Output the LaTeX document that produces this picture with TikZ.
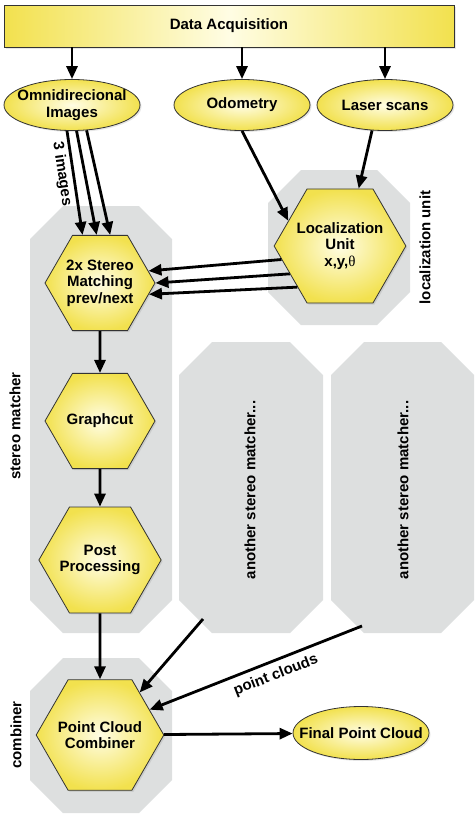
\documentclass[tikz,border=0pt]{standalone}
\usepackage{fontspec}
\setmainfont{Liberation Sans}
\newfontfamily\thetafont{Liberation Serif}
\usetikzlibrary{shapes.geometric,arrows.meta,shadows}

\definecolor{hexyellow}{RGB}{242,225,78}
\definecolor{hexpale}{RGB}{255,253,228}
\definecolor{grpgray}{RGB}{221,223,223}

% gray group with cut corners: x1, y1, x2, y2
\newcommand{\grpoct}[4]{%
  \fill[grpgray] (#1+33,#2) -- (#3-33,#2) -- (#3,#2+33) -- (#3,#4-33)
    -- (#3-33,#4) -- (#1+33,#4) -- (#1,#4-33) -- (#1,#2+33) -- cycle;}

\tikzset{
  txt/.style={font=\fontsize{15}{16.5}\selectfont\bfseries, align=center},
  hexbox/.style={txt, regular polygon, regular polygon sides=6, minimum size=110pt, inner sep=-3pt,
    draw=black!80, line width=0.8pt, inner color=hexpale, outer color=hexyellow,
    drop shadow={opacity=0.2, shadow xshift=1.5pt, shadow yshift=-1.5pt}},
  ellbox/.style={txt, ellipse, minimum width=136pt, minimum height=51pt, inner xsep=-16pt, inner ysep=0pt,
    draw=black!80, line width=0.8pt, inner color=hexpale, outer color=hexyellow,
    drop shadow={opacity=0.2, shadow xshift=1.5pt, shadow yshift=-1.5pt}},
  databox/.style={txt, rectangle, minimum width=450pt, minimum height=42pt, draw=black!80, line width=0.8pt,
    left color=hexyellow, right color=hexyellow, middle color=hexpale,
    drop shadow={opacity=0.2, shadow xshift=1.5pt, shadow yshift=-1.5pt}},
  arr/.style={line width=2.8pt, -{Triangle[length=13pt,width=11pt]}}
}

\begin{document}
\begin{tikzpicture}[x=1pt, y=-1pt]
  \useasboundingbox (0,0) rectangle (474,814);

  % gray groups in the background
  \grpoct{30}{206}{172}{633}
  \grpoct{268}{170}{410}{325}
  \grpoct{179}{342}{323}{633}
  \grpoct{331}{342}{474}{633}
  \grpoct{30}{658}{172}{813}

  \node[txt, rotate=90] (smlab) at (15,426) {stereo matcher};
  \node[txt, rotate=90] (loclab) at (425,247.5) {localization unit};
  \node[txt, rotate=90] (comblab) at (16,735) {combiner};
  \node[txt, rotate=90] (asm1txt) at (250,490) {another stereo matcher...};
  \node[txt, rotate=90] (asm2txt) at (403,490) {another stereo matcher...};
  \coordinate (asm1out) at (203,619);
  \coordinate (asm2out) at (362,626);

  % sources
  \node[databox] (da) at (229,26) {Data Acquisition};
  \node[ellbox] (omni) at (72,105) {Omnidirecional\\Images};
  \node[ellbox] (odo) at (242,105) {Odometry};
  \node[ellbox] (laser) at (385,105) {Laser scans};

  % processing steps
  \node[hexbox] (sm) at (100,283) {2x Stereo\\Matching\\prev/next};
  \node[hexbox] (gc) at (100,421) {Graphcut};
  \node[hexbox] (pp) at (100,560) {Post\\Processing};
  \node[hexbox] (loc) at (340,246) {Localization\\Unit\\x,y,{\thetafont\mdseries θ}};
  \node[hexbox] (comb) at (100,735) {Point Cloud\\Combiner};
  \node[ellbox, minimum height=53pt] (final) at (361,733) {Final Point Cloud};

  % arrows
  \draw[arr] (omni.north |- da.south) -- (omni.north);
  \draw[arr] (odo.north |- da.south) -- (odo.north);
  \draw[arr] (laser.north |- da.south) -- (laser.north);

  \draw[arr] (omni.259) -- node[txt, sloped, below, pos=0.4, inner sep=3pt] {3 images} (sm.110);
  \draw[arr] (omni.280) -- (sm.94);
  \draw[arr] (omni.300) -- (sm.78);

  \draw[arr] (odo.south) -- (loc.154);
  \draw[arr] (laser.243) -- (loc.72);

  \draw[arr] (loc.193) -- (sm.14);
  \draw[arr] (loc.209) -- (sm.0);
  \draw[arr] (loc.224) -- (sm.-13);

  \draw[arr] (sm) -- (gc);
  \draw[arr] (gc) -- (pp);
  \draw[arr] (pp) -- (comb);
  \draw[arr] (asm1out) -- (comb.47);
  \draw[arr] (asm2out) -- node[txt, sloped, below, pos=0.43, inner sep=6pt] {point clouds} (comb.27);
  \draw[arr] (comb) -- (final);
\end{tikzpicture}
\end{document}
